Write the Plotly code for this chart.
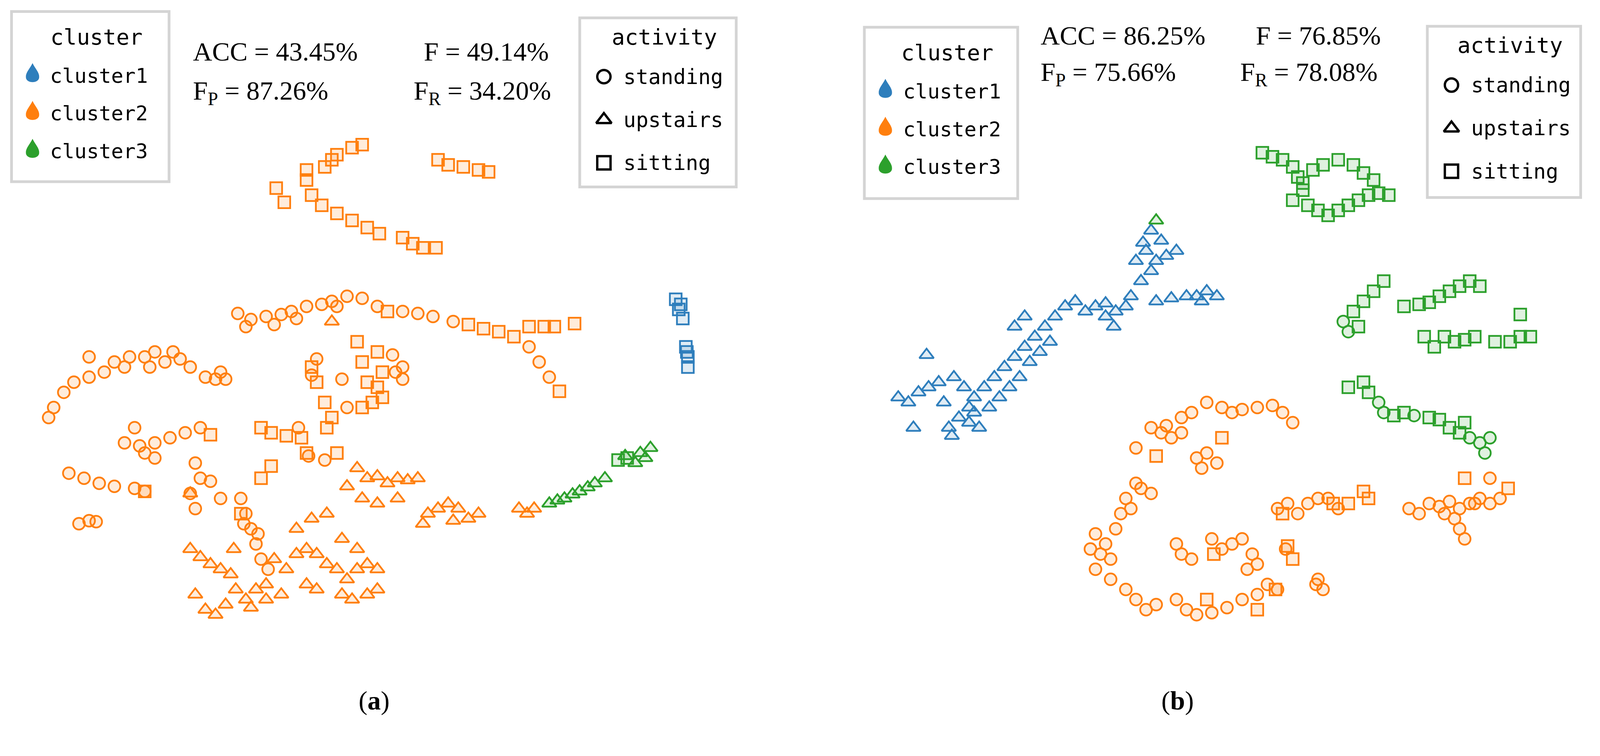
import plotly.graph_objects as go

# ---- data (t-SNE style embeddings) ----
# panel (a)
a_c2_standing = [(232,307),(245,313),(260,310),(275,308),(285,305),(300,300),(315,298),(325,295),(340,290),(355,292),
    (370,300),(395,305),(410,307),(425,310),(445,315),(520,340),(530,355),(540,370),(240,320),(268,318),(290,312),(330,300),
    (45,410),(50,400),(60,385),(70,375),(85,370),(100,365),(110,355),(125,350),(140,350),(150,345),(160,355),(175,352),
    (185,360),(200,370),(210,372),(215,365),(220,372),(120,360),(145,360),(168,345),(85,350),
    (120,435),(135,438),(150,435),(165,430),(180,425),(195,420),(130,420),(150,450),(140,445),
    (65,465),(80,470),(95,475),(110,478),(130,480),(140,483),(190,455),(195,470),(205,473),(185,485),(190,500),(215,490),
    (75,515),(85,512),(92,513),(235,490),(240,505),(245,520),(250,535),(255,550),(262,560),(238,515),(252,525),
    (335,372),(340,400),(305,368),(388,365),(395,372),(292,420),(302,448),(318,452),(385,348),(395,360),(310,352)]
a_c2_sitting = [(270,183),(278,197),(300,175),(318,162),(330,150),(345,143),(355,140),(305,190),(315,200),(330,208),
    (345,215),(360,222),(372,228),(300,165),(325,155),(430,155),(440,160),(455,162),(470,165),(480,167),
    (395,232),(405,238),(415,242),(428,242),(460,318),(475,322),(490,325),(505,330),(550,384),(520,320),(535,320),
    (545,320),(565,317),(380,305),(305,360),(310,375),(318,395),(325,410),(355,400),(365,395),(375,390),(350,335),
    (355,355),(360,375),(370,380),(375,365),(370,345),(255,420),(265,425),(280,428),(295,430),(300,445),(320,420),
    (330,445),(205,427),(140,483),(235,505),(265,458),(255,470)]
a_c2_upstairs = [(185,540),(195,548),(205,555),(215,560),(225,565),(230,580),(240,590),(250,580),(260,575),(200,600),
    (210,605),(220,595),(245,598),(260,590),(275,585),(280,560),(290,545),(300,540),(310,545),(320,555),(330,560),
    (340,570),(350,560),(360,555),(370,560),(335,585),(345,590),(360,585),(370,580),(300,575),(310,580),(290,520),
    (305,510),(320,505),(335,530),(350,540),(190,585),(268,550),(228,540),
    (350,460),(360,470),(370,468),(380,475),(390,470),(400,472),(410,470),(355,490),(370,495),(390,490),(340,478),
    (420,505),(430,500),(440,495),(450,500),(460,510),(470,505),(415,515),(445,512),(510,500),(518,505),(525,500),
    (325,315),(185,485)]
a_c3_upstairs = [(540,495),(548,492),(555,490),(563,486),(570,483),(578,479),(585,475),(595,470),(615,448),(625,455),
    (630,445),(640,440),(635,450)]
a_c3_sitting = [(608,452),(617,450)]
a_c1_sitting = [(665,293),(668,303),(672,312),(675,340),(677,350),(677,360),(670,298),(676,345)]

# panel (b)
b_c1_upstairs = [(885,390),(895,395),(905,385),(915,380),(925,375),(935,420),(945,410),(955,400),(960,390),(970,380),
    (980,370),(990,360),(1000,350),(1010,340),(1020,330),(1030,320),(1040,310),(1050,300),(1060,295),(1070,305),
    (1080,300),(1090,310),(1100,305),(1110,300),(1115,290),(1125,275),(1135,265),(1140,255),(1130,245),(1145,235),
    (1150,250),(1160,245),(1170,290),(1180,290),(1190,285),(1200,290),(1140,295),(1155,292),(913,348),(900,420),
    (940,370),(955,415),(965,420),(975,400),(985,390),(995,380),(1005,370),(1015,355),(1025,345),(1035,335),(930,395),
    (950,380),(1000,320),(1010,310),(1120,255),(1135,225),(1127,237),(938,428),(960,405),(1185,295),(1098,320),(1090,297)]
b_c3_upstairs = [(1140,215)]
b_c3_sitting = [(1245,148),(1255,152),(1265,155),(1275,162),(1280,172),(1285,185),(1275,195),(1290,200),(1300,205),
    (1310,210),(1320,205),(1330,200),(1340,195),(1350,190),(1360,188),(1370,190),(1355,175),(1345,168),(1335,160),
    (1320,155),(1305,160),(1295,165),(1285,178),
    (1335,305),(1345,295),(1355,285),(1365,275),(1340,320),(1385,300),(1400,298),(1410,296),(1420,290),(1430,285),
    (1440,280),(1450,275),(1460,280),(1500,308),(1405,330),(1415,340),(1425,330),(1435,335),(1445,333),(1455,330),
    (1475,335),(1490,335),(1500,330),(1510,330),
    (1330,380),(1345,375),(1350,385),(1375,408),(1385,405),(1410,410),(1420,412),(1430,420),(1440,425),(1445,415)]
b_c3_standing = [(1325,315),(1330,325),(1360,395),(1365,405),(1395,408),(1450,430),(1460,435),(1465,445),(1470,430)]
b_c2_standing = [(1135,420),(1145,425),(1155,430),(1165,410),(1175,405),(1190,395),(1205,400),(1215,405),(1225,402),
    (1240,400),(1255,398),(1265,405),(1275,415),(1165,425),(1180,450),(1190,445),(1200,455),(1185,460),(1120,475),
    (1110,490),(1105,505),(1115,500),(1125,480),(1135,485),(1100,520),(1080,525),(1075,540),(1085,545),(1095,550),
    (1090,535),(1080,560),(1095,570),(1110,580),(1120,590),(1130,600),(1140,595),(1160,590),(1170,600),(1180,605),
    (1195,603),(1210,598),(1225,590),(1240,585),(1250,575),(1260,580),(1230,560),(1240,555),(1235,545),(1165,545),
    (1175,550),(1160,535),(1195,530),(1205,540),(1215,535),(1225,530),(1260,500),(1270,495),(1280,505),(1290,495),
    (1300,490),(1310,490),(1320,500),(1268,540),(1300,570),(1305,580),(1298,575),(1390,500),(1400,505),(1410,495),
    (1420,498),(1430,493),(1440,500),(1450,495),(1460,490),(1470,495),(1480,490),(1440,520),(1445,530),(1455,495),
    (1425,505),(1435,510),(1470,470),(1120,440),(1150,418)]
b_c2_sitting = [(1240,600),(1258,580),(1275,550),(1265,505),(1270,537),(1330,495),(1345,483),(1190,590),(1197,545),
    (1445,470),(1488,480),(1205,430),(1140,448),(1350,490),(1315,495)]

metrics_a = ["ACC = 43.45%", "F = 49.14%", "F<sub>P</sub> = 87.26%", "F<sub>R</sub> = 34.20%"]
metrics_b = ["ACC = 86.25%", "F = 76.85%", "F<sub>P</sub> = 75.66%", "F<sub>R</sub> = 78.08%"]
cluster_names = ["cluster1", "cluster2", "cluster3"]
activity_names = ["standing", "upstairs", "sitting"]
captions = ["(<b>a</b>)", "(<b>b</b>)"]

COL = {1: "#2e7ebc", 2: "#ff7f0e", 3: "#2ca02c"}
FILL = {1: "rgba(46,126,188,0.15)", 2: "rgba(255,127,14,0.15)", 3: "rgba(44,160,44,0.15)"}
SYMB = {"standing": "circle", "upstairs": "triangle-up", "sitting": "square"}

groups = [
    (a_c2_standing, 2, "standing"), (a_c2_sitting, 2, "sitting"), (a_c2_upstairs, 2, "upstairs"),
    (a_c3_upstairs, 3, "upstairs"), (a_c3_sitting, 3, "sitting"), (a_c1_sitting, 1, "sitting"),
    (b_c1_upstairs, 1, "upstairs"), (b_c3_upstairs, 3, "upstairs"), (b_c3_sitting, 3, "sitting"),
    (b_c3_standing, 3, "standing"), (b_c2_standing, 2, "standing"), (b_c2_sitting, 2, "sitting"),
]

fig = go.Figure()
for pts, c, act in groups:
    fig.add_trace(go.Scatter(
        x=[p[0] for p in pts], y=[p[1] for p in pts], mode="markers", showlegend=False,
        marker=dict(symbol=SYMB[act], size=30 if act != "upstairs" else 32, color=FILL[c],
                    line=dict(color=COL[c], width=4.5))))

# layout frame (original px / 2.811) for decorations
W, H = 1510, 688
def px(x): return x / W
def py(y): return 1 - y / H

shapes, ann = [], []
LF = "DejaVu Sans Mono"
SF = "Liberation Serif"

def drop(cx, cy, col):
    return dict(type="path", xref="paper", yref="paper", xsizemode="pixel", ysizemode="pixel",
                xanchor=px(cx), yanchor=py(cy), fillcolor=col, line=dict(width=0),
                path="M 0,32 C 6,19 18,8 17,-4 C 17,-21 -17,-21 -17,-4 C -18,8 -6,19 0,32 Z")

def box(x0, y0, x1, y1):
    shapes.append(dict(type="rect", xref="paper", yref="paper", x0=px(x0), x1=px(x1), y0=py(y1), y1=py(y0),
                       line=dict(color="#d4d4d4", width=7)))

def txt(x, y, s, font, size, anchor="left"):
    ann.append(dict(x=px(x), y=py(y), xref="paper", yref="paper", text=s, xanchor=anchor, yanchor="middle",
                    showarrow=False, font=dict(family=font, size=size, color="black")))

sym_x, sym_y = [], []
def panel(cb, ab, met, mxs, mys, cap):
    x0, y0, x1, y1 = cb
    box(x0, y0, x1, y1)
    txt((x0 + x1) / 2 + 6, y0 + 24, "cluster", LF, 56, "center")
    for i, n in enumerate(cluster_names):
        yy = y0 + 61 + i * 36
        shapes.append(drop(x0 + 20, yy, COL[i + 1]))
        txt(x0 + 36, yy, n, LF, 52)
    x0, y0, x1, y1 = ab
    box(x0, y0, x1, y1)
    txt((x0 + x1) / 2 + 6, y0 + 18, "activity", LF, 56, "center")
    for i, n in enumerate(activity_names):
        yy = y0 + 56 + i * 41
        sym_x.append(x0 + 23); sym_y.append(yy)
        txt(x0 + 41, yy, n, LF, 53)
    txt(mxs[0], mys[0], met[0], SF, 68)
    txt(mxs[1], mys[0], met[1], SF, 68)
    txt(mxs[0], mys[1], met[2], SF, 68)
    txt(mxs[2], mys[1], met[3], SF, 68)
    txt(cap[0], cap[1], cap[2], SF, 68, "center")

panel((8, 8, 158, 170), (549, 14, 698, 175), metrics_a, (180, 400, 390), (46, 85), (353, 664, captions[0]))
panel((820, 23, 966, 186), (1356, 22, 1502, 185), metrics_b, (987, 1192, 1177), (31, 67), (1118, 664, captions[1]))

fig.add_trace(go.Scatter(x=sym_x, y=sym_y, xaxis="x2", yaxis="y2", mode="markers", showlegend=False,
                         marker=dict(symbol=["circle-open", "triangle-up-open", "square-open"] * 2, size=34,
                                     color="black", line=dict(width=6, color="black"))))

fig.update_layout(
    width=4060, height=1850, margin=dict(l=0, r=0, t=0, b=0),
    paper_bgcolor="white", plot_bgcolor="white", shapes=shapes, annotations=ann,
    xaxis=dict(range=[0, 1568], visible=False, fixedrange=True),
    yaxis=dict(range=[715, 0], visible=False, fixedrange=True),
    xaxis2=dict(range=[0, W], visible=False, overlaying="x", fixedrange=True),
    yaxis2=dict(range=[H, 0], visible=False, overlaying="y", fixedrange=True),
)
fig.write_html("out.html")
